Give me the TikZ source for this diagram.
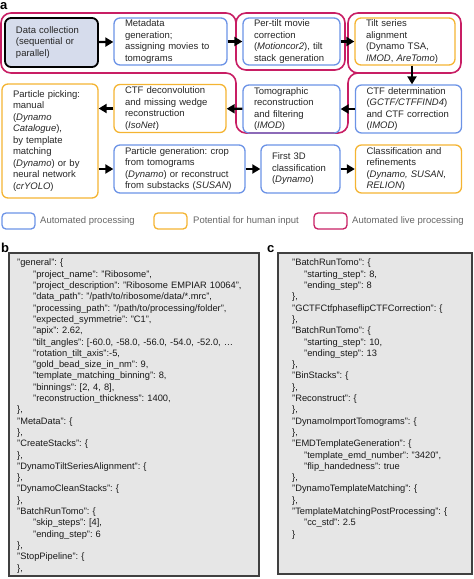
\documentclass[tikz,border=0pt]{standalone}
\usepackage{fontspec}
\setmainfont{Liberation Sans}
\usetikzlibrary{arrows.meta}
\frenchspacing

\definecolor{autoblue}{RGB}{108,147,230}
\definecolor{humanorange}{RGB}{244,180,50}
\definecolor{livemagenta}{RGB}{200,30,100}
\definecolor{collectfill}{RGB}{214,220,236}
\definecolor{panelgray}{RGB}{230,230,230}

\begin{document}
\begin{tikzpicture}[x=1pt,y=-1pt,
    stage/.style={draw=autoblue,line width=1.3,rounded corners=6,minimum width=#1,text width=#1-22,
        minimum height=48,inner sep=0,align=left,font=\stagefont,text=black!85},
    human/.style={draw=humanorange},
    live/.style={draw=livemagenta,line width=1.6,rounded corners=10},
    flow/.style={line width=2.2,-{Triangle[length=8,width=9]}},
    legendkey/.style={draw=#1,line width=1.3,rounded corners=4,minimum width=33,minimum height=16,inner sep=0},
    legendtext/.style={anchor=west,inner sep=0,font=\stagefont,text=black!60},
    panel/.style={fill=panelgray,draw=black!75,line width=1.5},
    panellabel/.style={anchor=base west,inner sep=0,font=\labelfont}]
    \providecommand{\stagefont}{\fontsize{9.5}{11.5}\selectfont\frenchspacing}
    \providecommand{\jsonfont}{\fontsize{9.3}{11.3}\selectfont\frenchspacing}
    \providecommand{\labelfont}{\fontsize{13}{13}\selectfont\bfseries}
    \providecommand{\indb}{\hspace*{16pt}}
    \providecommand{\indc}{\hspace*{12pt}}
    \useasboundingbox (0,0) rectangle (474,579);

    % a: live processing outlines
    \draw[live] (236,40) -- (236,13) -- (1,13) -- (1,73) -- (236,73) -- (236,133) -- (348,133) -- (348,73) -- (400,73);
    \draw[live] (236,13) rectangle (345,70);
    \draw[live] (348,13) rectangle (461,73);

    % a: stages
    \node[stage=93,minimum height=49,fill=collectfill,draw=black,line width=1.8](collect) at (51.5,42.5)
        {Data collection\\(sequential or\\parallel)};
    \node[stage=113,minimum height=47](metadata) at (170.5,41.5)
        {Metadata\\generation;\\assigning movies to\\tomograms};
    \node[stage=97,minimum height=47](motioncorr) at (291.5,41.5)
        {Per-tilt movie\\correction\\(\textit{Motioncor2}), tilt\\stack generation};
    \node[stage=100,minimum height=47,human](tsalign) at (405,41.5)
        {Tilt series\\alignment\\(Dynamo TSA,\\\textit{IMOD}, \textit{AreTomo})};
    \node[stage=106](ctfdet) at (408.5,109)
        {CTF determination\\(\textit{GCTF/CTFFIND4})\\and CTF correction\\(\textit{IMOD})};
    \node[stage=97](tomorec) at (291.5,109)
        {Tomographic\\reconstruction\\and filtering\\(\textit{IMOD})};
    \node[stage=112,human](isonet) at (170,108.5)
        {CTF deconvolution\\and missing wedge\\reconstruction\\(\textit{IsoNet})};
    \node[stage=96,minimum height=114,human](picking) at (50,141)
        {Particle picking:\\manual\\(\textit{Dynamo}\\\textit{Catalogue}),\\by template\\matching\\(\textit{Dynamo}) or by\\neural network\\(\textit{crYOLO})};
    \node[stage=131](partgen) at (179.5,169)
        {Particle generation: crop\\from tomograms\\(\textit{Dynamo}) or reconstruct\\from substacks (\textit{SUSAN})};
    \node[stage=79](firstclass) at (300.5,169)
        {First 3D\\classification\\(\textit{Dynamo})};
    \node[stage=106,human](refine) at (408.5,169)
        {Classification and\\refinements\\(\textit{Dynamo, SUSAN,}\\\textit{RELION})};

    \draw[flow] (collect) -- (metadata);
    \draw[flow] (metadata) -- (motioncorr);
    \draw[flow] (motioncorr) -- (tsalign);
    \draw[flow] ([xshift=7]tsalign.south) -- ([xshift=7]tsalign.south |- ctfdet.north);
    \draw[flow] (ctfdet) -- (tomorec);
    \draw[flow] (tomorec) -- (isonet);
    \draw[flow] (isonet.west) -- (isonet.west -| picking.east);
    \draw[flow] (partgen.west -| picking.east) -- (partgen.west);
    \draw[flow] (partgen) -- (firstclass);
    \draw[flow] (firstclass) -- (refine);

    % a: legend
    \node[legendkey=autoblue](keyauto) at (18.5,221) {};
    \node[legendtext](legauto) at (40,221) {Automated processing};
    \node[legendkey=humanorange](keyhuman) at (170.5,221) {};
    \node[legendtext](leghuman) at (193,221) {Potential for human input};
    \node[legendkey=livemagenta](keylive) at (330.5,221) {};
    \node[legendtext](leglive) at (352,221) {Automated live processing};

    % panel labels
    \node[panellabel](labela) at (0,9.5) {a};
    \node[panellabel](labelb) at (1,252) {b};
    \node[panellabel](labelc) at (267,252) {c};

    % b: general settings
    \draw[panel] (9,253) rectangle (259,576);
    \node[anchor=north west,inner sep=0,text width=300,align=left,font=\jsonfont,text=black!90](jsonb) at (17,259) {
        "general": \{\\
        \indb"project\_name": "Ribosome",\\
        \indb"project\_description": "Ribosome EMPIAR 10064",\\
        \indb"data\_path": "/path/to/ribosome/data/*.mrc",\\
        \indb"processing\_path": "/path/to/processing/folder",\\
        \indb"expected\_symmetrie": "C1",\\
        \indb"apix": 2.62,\\
        \indb"tilt\_angles": [-60.0, -58.0, -56.0, -54.0, -52.0, \dots\\
        \indb"rotation\_tilt\_axis":-5,\\
        \indb"gold\_bead\_size\_in\_nm": 9,\\
        \indb"template\_matching\_binning": 8,\\
        \indb"binnings": [2, 4, 8],\\
        \indb"reconstruction\_thickness": 1400,\\
        \},\\
        "MetaData": \{\\
        \},\\
        "CreateStacks": \{\\
        \},\\
        "DynamoTiltSeriesAlignment": \{\\
        \},\\
        "DynamoCleanStacks": \{\\
        \},\\
        "BatchRunTomo": \{\\
        \indb"skip\_steps": [4],\\
        \indb"ending\_step": 6\\
        \},\\
        "StopPipeline": \{\\
        \},
    };

    % c: resumed pipeline
    \draw[panel] (278,253) rectangle (472,574);
    \node[anchor=north west,inner sep=0,text width=300,align=left,font=\jsonfont,text=black!90](jsonc) at (292,259) {
        "BatchRunTomo": \{\\
        \indc"starting\_step": 8,\\
        \indc"ending\_step": 8\\
        \},\\
        "GCTFCtfphaseflipCTFCorrection": \{\\
        \},\\
        "BatchRunTomo": \{\\
        \indc"starting\_step": 10,\\
        \indc"ending\_step": 13\\
        \},\\
        "BinStacks": \{\\
        \},\\
        "Reconstruct": \{\\
        \},\\
        "DynamoImportTomograms": \{\\
        \},\\
        "EMDTemplateGeneration": \{\\
        \indc"template\_emd\_number": "3420",\\
        \indc"flip\_handedness": true\\
        \},\\
        "DynamoTemplateMatching": \{\\
        \},\\
        "TemplateMatchingPostProcessing": \{\\
        \indc"cc\_std": 2.5\\
        \}
    };
\end{tikzpicture}
\end{document}
